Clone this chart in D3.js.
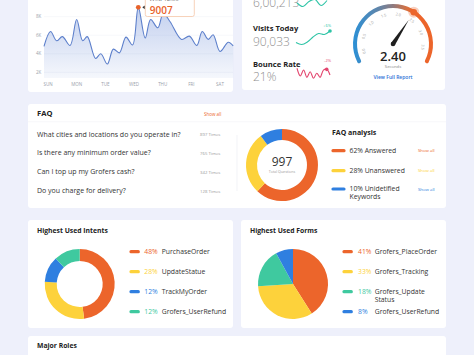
<!DOCTYPE html>
<html><head><meta charset="utf-8">
<script src="https://cdn.jsdelivr.net/npm/d3@7"></script>
<style>html,body{margin:0;padding:0;background:#eef0fb;overflow:hidden}svg{display:block;font-family:"Open Sans",sans-serif}</style>
</head><body><svg id="c" width="474" height="355"></svg>
<script>
// ---------- DATA ----------
const dayLabels = ["SUN","MON","TUE","WED","THU","FRI","SAT"];
const visitTimes = [-0.14,0.09,0.30,0.50,0.77,1.0,1.21,1.37,1.66,1.84,2.07,2.28,2.49,2.72,2.95,3.15,3.39,3.58,3.83,4.02,4.26,4.66,4.93,5.19,5.38,5.59,5.76,6.0,6.29,6.46];
const visitValues = [4800,6400,5400,5850,4900,7700,5400,5850,3500,4000,2900,4500,4100,5800,4950,9007,5700,7700,6800,8350,7450,5550,5900,4900,6400,5550,6050,4250,5250,4850];
const yTickValues = [2000,4000,6000,8000];
const yTickLabels = ["2K","4K","6K","8K"];
const peakLabel = "9007";

const statNames = ["", "Visits Today", "Bounce Rate"];
const statValues = ["6,00,213", "90,033", "21%"];
const statChanges = ["", "+6%", "-2%"];
const sparkTotal = [5,1.5,6.5,8.5,2.5,7.5];
const sparkVisits = [2.2,0.9,2.5,5.6,7.8,7.2,9.4];
const sparkBounce = [8.4,2.9,7.1,1.9,5.9,1.2,4.8,1.9,7.1,7.6,3.6];

const gaugeTicks = [0,0.5,1,1.5,2,2.5,3,3.5];
const gaugeValue = 2.40;

const faqQuestions = ["What cities and locations do you operate in?","Is there any minimum order value?","Can I top up my Grofers cash?","Do you charge for delivery?"];
const faqTimes = [897,765,342,128];
const faqTotal = 997;
const faqLabels = ["Answered","Unanswered","Unidetified Keywords"];
const faqShares = [62,28,10];

const intentLabels = ["PurchaseOrder","UpdateStatue","TrackMyOrder","Grofers_UserRefund"];
const intentShares = [48,28,12,12];
const formLabels = ["Grofers_PlaceOrder","Grofers_Tracking","Grofers_Update Status","Grofers_UserRefund"];
const formShares = [41,33,18,8];

const ORANGE="#ec652b", YELLOW="#fdd23b", BLUE="#2f7fe0", GREEN="#3fc99f";
const faqColors=[ORANGE,YELLOW,BLUE];
const intentColors=[ORANGE,YELLOW,BLUE,GREEN];
const formColors=[ORANGE,YELLOW,GREEN,BLUE];

// ---------- DRAW ----------
const svg = d3.select("#c");
const defs = svg.append("defs");
svg.append("rect").attr("width",474).attr("height",355).attr("fill","#eef0fb");

function card(x,y,w,h){ svg.append("rect").attr("x",x).attr("y",y).attr("width",w).attr("height",h).attr("rx",3).attr("fill","#fff"); }
card(28,-10,205,102);
card(242,-10,203,100);
card(28,104,418,104);
card(28,220,205,108);
card(241,220,205,108);
card(28,336,418,30);

function txt(x,y,s,o={}){
  const t=svg.append("text").attr("x",x).attr("y",y).text(s)
    .attr("font-size",o.size||7).attr("fill",o.fill||"#333")
    .attr("font-weight",o.weight||400).attr("text-anchor",o.anchor||"start");
  if(o.family) t.attr("font-family",o.family);
  return t;
}

// ---- Line chart ----
const x = d3.scaleLinear([0,6],[48,220]);
const y = d3.scaleLinear([1400,9000],[77.9,7.4]);
const g1 = svg.append("g");
yTickValues.forEach((v,i)=>{
  g1.append("line").attr("x1",44).attr("x2",233).attr("y1",y(v)).attr("y2",y(v)).attr("stroke","#f0f2f7").attr("stroke-width",0.6);
  txt(36,y(v)+1.6,yTickLabels[i],{size:4.5,fill:"#9aa0ab"});
});
dayLabels.forEach((d,i)=>txt(x(i),86,d,{size:4.5,fill:"#9aa0ab",anchor:"middle"}));
const pts = visitTimes.map((t,i)=>[t,visitValues[i]]);
const grad = defs.append("linearGradient").attr("id","ag").attr("x1",0).attr("x2",0).attr("y1",0).attr("y2",1);
grad.append("stop").attr("offset","0%").attr("stop-color","#6f8fd8").attr("stop-opacity",0.42);
grad.append("stop").attr("offset","100%").attr("stop-color","#6f8fd8").attr("stop-opacity",0.07);
const crv = d3.curveCatmullRom.alpha(0.5);
g1.append("path").datum(pts)
  .attr("d",d3.area().x(d=>x(d[0])).y0(y(1400)).y1(d=>y(d[1])).curve(crv))
  .attr("fill","url(#ag)");
g1.append("path").datum(pts)
  .attr("d",d3.line().x(d=>x(d[0])).y(d=>y(d[1])).curve(crv))
  .attr("fill","none").attr("stroke","#5c7fcb").attr("stroke-width",1.1);
const peakI = visitValues.indexOf(d3.max(visitValues));
const px = x(visitTimes[peakI]), py = y(visitValues[peakI]);
g1.append("circle").attr("cx",px).attr("cy",py).attr("r",2.4).attr("fill","#e8622a");
g1.append("path").attr("d",`M${px+4},${py} l2.5,-1.8 v3.6 z`).attr("fill","#333");
g1.append("rect").attr("x",px+7).attr("y",-4).attr("width",49).attr("height",20.5).attr("rx",2)
  .attr("fill","#fff").attr("stroke","#f5c6a8").attr("stroke-width",0.8);
txt(px+11,1,"Wed 12:00",{size:6,fill:"#777"});
txt(px+11.5,13.5,peakLabel,{size:10,fill:"#e8622a",weight:600});

// ---- Stats ----
const statY=[6,31,67], valY=[7,46,81];
statNames.forEach((n,i)=>{ if(n) txt(253,statY[i],n,{size:7.6,fill:"#222",weight:700}); });
statValues.forEach((v,i)=>txt(253,valY[i],v,{size:12,fill:"#8f8f8f",weight:300}));
function spark(vals,x0,x1,yTop,yBot,color,dotIdx){
  const sx=d3.scaleLinear([0,vals.length-1],[x0,x1]);
  const sy=d3.scaleLinear([0,10],[yBot,yTop]);
  svg.append("path").attr("d",d3.line().x((d,i)=>sx(i)).y(d=>sy(d)).curve(d3.curveCatmullRom)(vals))
    .attr("fill","none").attr("stroke",color).attr("stroke-width",1.1);
  if(dotIdx!=null) svg.append("circle").attr("cx",sx(dotIdx)).attr("cy",sy(vals[dotIdx])).attr("r",1.8).attr("fill",color);
}
spark(sparkTotal,297,327,-2,8,"#2ec4a6",null);
spark(sparkVisits,296,330,30,46,"#2ec4a6",6);
spark(sparkBounce,297,330,66,80,"#e3456e",9);
txt(331,27,statChanges[1],{size:4,fill:"#2ec4a6",anchor:"end"});
txt(331,62,statChanges[2],{size:4,fill:"#e3456e",anchor:"end"});

// ---- Gauge ----
const gc=[393,44];
const gg=svg.append("g").attr("transform",`translate(${gc[0]},${gc[1]})`);
const gGrad=defs.append("linearGradient").attr("id","gg").attr("gradientUnits","userSpaceOnUse")
  .attr("x1",-40).attr("x2",40).attr("y1",0).attr("y2",0);
[["0%","#2b90d6"],["30%","#5d86ad"],["50%","#8f7b80"],["68%","#d9703e"],["80%","#ec652b"],["100%","#ec652b"]]
  .forEach(s=>gGrad.append("stop").attr("offset",s[0]).attr("stop-color",s[1]));
const rad=Math.PI/180;
gg.append("path").attr("d",d3.arc().innerRadius(36).outerRadius(40).startAngle(-120*rad).endAngle(120*rad).cornerRadius(2)())
  .attr("fill","url(#gg)");
const ang=d3.scaleLinear([0,3.5],[-104,96]);
gaugeTicks.forEach(v=>{
  const a=ang(v)*rad, r=30;
  gg.append("text").attr("x",r*Math.sin(a)).attr("y",-r*Math.cos(a)).attr("dy","0.35em")
    .attr("text-anchor","middle").attr("font-size",3.8).attr("fill","#9a9a9a")
    .attr("transform",`rotate(${ang(v)},${r*Math.sin(a)},${-r*Math.cos(a)})`).text(v.toFixed(1));
});
const va=ang(gaugeValue)*rad;
gg.append("circle").attr("cx",38*Math.sin(va)).attr("cy",-38*Math.cos(va)).attr("r",5.5).attr("fill","#ec652b").attr("opacity",0.3);
gg.append("circle").attr("cx",38*Math.sin(va)).attr("cy",-38*Math.cos(va)).attr("r",3.3).attr("fill","#ec652b");
const nl=29, bw=2.2;
gg.append("path").attr("d",`M${-bw*Math.cos(va)},${-bw*Math.sin(va)} L${nl*Math.sin(va)},${-nl*Math.cos(va)} L${bw*Math.cos(va)},${bw*Math.sin(va)} Z`).attr("fill","#1f1f1f");
gg.append("circle").attr("r",2.3).attr("fill","#1f1f1f");
txt(gc[0],61,gaugeValue.toFixed(2),{size:13,fill:"#222",weight:600,anchor:"middle"});
txt(gc[0],67.5,"Seconds",{size:4.2,fill:"#888",anchor:"middle"});
txt(gc[0],78.5,"View Full Report",{size:5,fill:"#2b6fd6",anchor:"middle",weight:600});

// ---- FAQ ----
txt(37,116,"FAQ",{size:7.6,fill:"#222",weight:700});
txt(204,116,"Show all",{size:4.5,fill:"#ec652b"});
svg.append("line").attr("x1",28).attr("x2",446).attr("y1",121.7).attr("y2",121.7).attr("stroke","#f3f4f8").attr("stroke-width",0.7);
const qy=[136.5,155,174,193];
faqQuestions.forEach((q,i)=>{
  txt(37,qy[i],q,{size:7,fill:"#333"});
  txt(200,qy[i]-0.5,faqTimes[i]+" Times",{size:4.3,fill:"#9a9a9a"});
});
svg.append("line").attr("x1",237).attr("x2",237).attr("y1",135).attr("y2",191).attr("stroke","#eceef3").attr("stroke-width",0.7);

function donut(cx,cy,ri,ro,shares,colors){
  const arcs=d3.pie().sort(null)(shares);
  const a=d3.arc().innerRadius(ri).outerRadius(ro);
  svg.append("g").attr("transform",`translate(${cx},${cy})`).selectAll("path").data(arcs).join("path")
    .attr("d",a).attr("fill",(d,i)=>colors[i]);
}
donut(282,165,25,36,faqShares,faqColors);
txt(282,165.5,String(faqTotal),{size:12,fill:"#333",anchor:"middle",weight:400});
txt(282,173,"Total Questions",{size:3.6,fill:"#9a9a9a",anchor:"middle"});
txt(332,135,"FAQ analysis",{size:7,fill:"#222",weight:700});
const fy=[150.7,170.7,189];
faqShares.forEach((s,i)=>{
  svg.append("line").attr("x1",333).attr("x2",344).attr("y1",fy[i]).attr("y2",fy[i]).attr("stroke",faqColors[i]).attr("stroke-width",3.2).attr("stroke-linecap","round");
  const words=faqLabels[i].split(" ");
  if(words.length>1){
    txt(349.5,fy[i]+2.4,s+"% "+words[0],{size:6.8,fill:"#333"});
    txt(349.5,fy[i]+10,words.slice(1).join(" "),{size:6.8,fill:"#333"});
  } else txt(349.5,fy[i]+2.4,s+"% "+faqLabels[i],{size:6.8,fill:"#333"});
  txt(418,fy[i]+1.5,"Show all",{size:4.3,fill:faqColors[i]});
});

// ---- Intents ----
txt(37,233,"Highest Used Intents",{size:6.8,fill:"#222",weight:700});
donut(79.7,284,23,35,intentShares,intentColors);
const ly=[251.7,271.7,291.7,311.7];
intentShares.forEach((s,i)=>{
  svg.append("line").attr("x1",131).attr("x2",138.3).attr("y1",ly[i]).attr("y2",ly[i]).attr("stroke",intentColors[i]).attr("stroke-width",3.2).attr("stroke-linecap","round");
  txt(144.3,ly[i]+2.4,s+"%",{size:6.8,fill:intentColors[i]});
  txt(161.7,ly[i]+2.4,intentLabels[i],{size:6.8,fill:"#333"});
});

// ---- Forms ----
txt(250,233,"Highest Used Forms",{size:6.8,fill:"#222",weight:700});
donut(293,284,0,35,formShares,formColors);
formShares.forEach((s,i)=>{
  svg.append("line").attr("x1",344).attr("x2",351.3).attr("y1",ly[i]).attr("y2",ly[i]).attr("stroke",formColors[i]).attr("stroke-width",3.2).attr("stroke-linecap","round");
  txt(358,ly[i]+2.4,s+"%",{size:6.8,fill:formColors[i]});
  const words=formLabels[i].split(" ");
  txt(374.7,ly[i]+2.4,words[0],{size:6.8,fill:"#333"});
  if(words.length>1) txt(374.7,ly[i]+10,words.slice(1).join(" "),{size:6.8,fill:"#333"});
});

// ---- Major Roles ----
txt(37,348,"Major Roles",{size:6.8,fill:"#222",weight:700});
</script></body></html>
